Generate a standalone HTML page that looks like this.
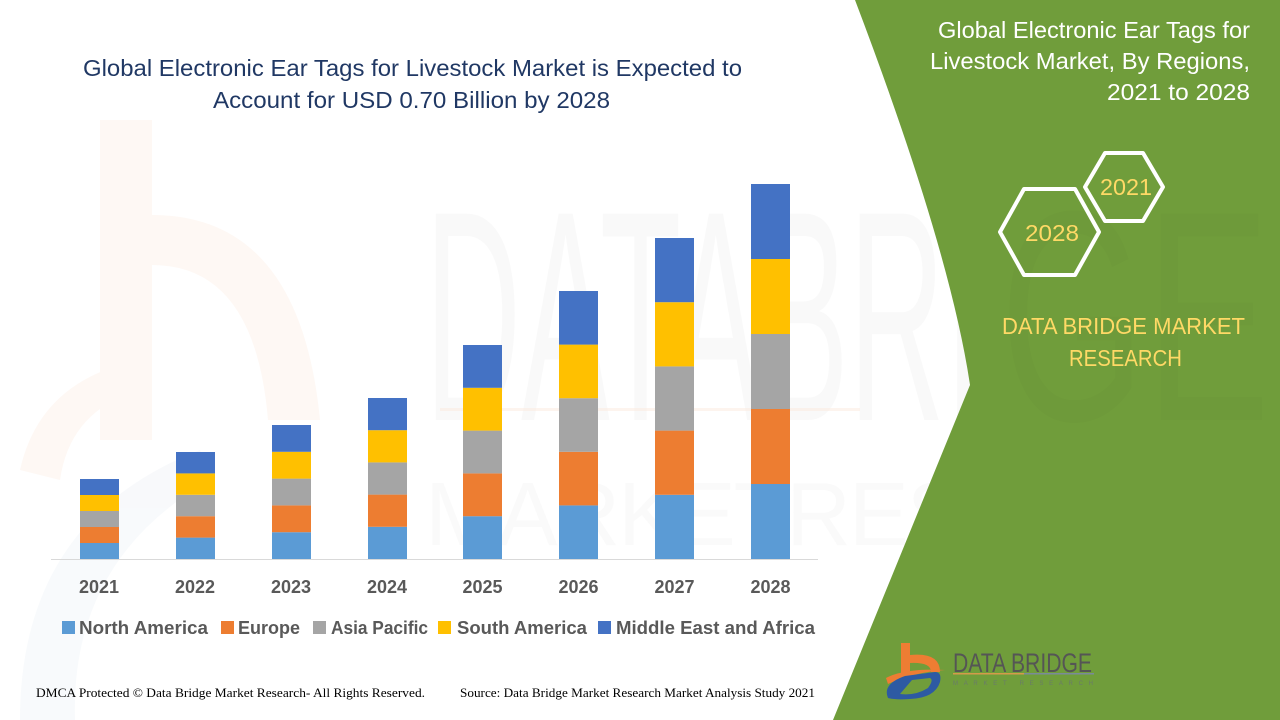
<!DOCTYPE html>
<html>
<head>
<meta charset="utf-8">
<style>
  html,body{margin:0;padding:0;background:#fff;}
  svg{display:block;}
  text{font-family:"Liberation Sans",sans-serif;}
</style>
</head>
<body>
<svg width="1280" height="720" viewBox="0 0 1280 720" xmlns="http://www.w3.org/2000/svg">
  <rect x="0" y="0" width="1280" height="720" fill="#ffffff"/>

  <!-- faint watermark on left -->
  <g opacity="0.4">
    <rect x="100" y="120" width="52" height="320" fill="#fdeee4"/>
    <path d="M152,215 Q300,215 320,420 L268,420 Q255,265 152,265 Z" fill="#fdeee4"/>
    <path d="M20,470 Q40,380 140,360 L140,390 Q70,410 60,480 Z" fill="#fdeee4"/>
    <path d="M20,720 Q20,520 200,450 L210,480 Q70,560 75,720 Z" fill="#eef2f7"/>
  </g>
  <text x="425" y="420" font-size="300" fill="#000" opacity="0.018" textLength="845" lengthAdjust="spacingAndGlyphs">DATABRIDGE</text>
  <text x="425" y="545" font-size="90" fill="#000" opacity="0.015" textLength="845" lengthAdjust="spacing">MARKETRESEARCH</text>
  <rect x="440" y="408" width="420" height="3" fill="#fbe9de" opacity="0.5"/>

  <!-- green panel -->
  <path d="M855,0 Q950,250 970,385 L833,720 L1280,720 L1280,0 Z" fill="#709d3b"/>
  <text x="1000" y="420" font-size="300" fill="#000" opacity="0.012" textLength="270" lengthAdjust="spacingAndGlyphs">GE</text>

  <!-- main title -->
  <text x="83" y="76" font-size="23" fill="#203864" textLength="659" lengthAdjust="spacingAndGlyphs">Global Electronic Ear Tags for Livestock Market is Expected to</text>
  <text x="213" y="108" font-size="23" fill="#203864" textLength="397" lengthAdjust="spacingAndGlyphs">Account for USD 0.70 Billion by 2028</text>

  <!-- right title -->
  <text x="938" y="38" font-size="23" fill="#ffffff" textLength="312" lengthAdjust="spacingAndGlyphs">Global Electronic Ear Tags for</text>
  <text x="930" y="69" font-size="23" fill="#ffffff" textLength="320" lengthAdjust="spacingAndGlyphs">Livestock Market, By Regions,</text>
  <text x="1107" y="100" font-size="23" fill="#ffffff" textLength="143" lengthAdjust="spacingAndGlyphs">2021 to 2028</text>

  <!-- hexagons -->
  <polygon points="1000,232 1024,189 1075,189 1099,232 1075,275 1024,275" fill="none" stroke="#ffffff" stroke-width="4" stroke-linejoin="round"/>
  <polygon points="1085,187 1105,153 1143,153 1163,187 1143,221 1105,221" fill="none" stroke="#ffffff" stroke-width="4" stroke-linejoin="round"/>
  <text x="1126" y="195" font-size="23" fill="#ffd966" text-anchor="middle" textLength="52" lengthAdjust="spacingAndGlyphs">2021</text>
  <text x="1052" y="241" font-size="23" fill="#ffd966" text-anchor="middle" textLength="54" lengthAdjust="spacingAndGlyphs">2028</text>

  <text x="1002" y="334" font-size="23" fill="#ffd966" textLength="243" lengthAdjust="spacingAndGlyphs">DATA BRIDGE MARKET</text>
  <text x="1069" y="366" font-size="23" fill="#ffd966" textLength="113" lengthAdjust="spacingAndGlyphs">RESEARCH</text>

  <!-- axis -->
  <line x1="51" y1="559.5" x2="818" y2="559.5" stroke="#d9d9d9" stroke-width="1"/>

  <!-- bars -->
  <g>
    <rect x="80" y="543" width="39" height="16" fill="#5b9bd5"/>
    <rect x="80" y="527" width="39" height="16" fill="#ed7d31"/>
    <rect x="80" y="511" width="39" height="16" fill="#a5a5a5"/>
    <rect x="80" y="495" width="39" height="16" fill="#ffc000"/>
    <rect x="80" y="479" width="39" height="16" fill="#4472c4"/>

    <rect x="176" y="537.6" width="39" height="21.4" fill="#5b9bd5"/>
    <rect x="176" y="516.2" width="39" height="21.4" fill="#ed7d31"/>
    <rect x="176" y="494.8" width="39" height="21.4" fill="#a5a5a5"/>
    <rect x="176" y="473.4" width="39" height="21.4" fill="#ffc000"/>
    <rect x="176" y="452" width="39" height="21.4" fill="#4472c4"/>

    <rect x="272" y="532.2" width="39" height="26.8" fill="#5b9bd5"/>
    <rect x="272" y="505.4" width="39" height="26.8" fill="#ed7d31"/>
    <rect x="272" y="478.6" width="39" height="26.8" fill="#a5a5a5"/>
    <rect x="272" y="451.8" width="39" height="26.8" fill="#ffc000"/>
    <rect x="272" y="425" width="39" height="26.8" fill="#4472c4"/>

    <rect x="368" y="526.8" width="39" height="32.2" fill="#5b9bd5"/>
    <rect x="368" y="494.6" width="39" height="32.2" fill="#ed7d31"/>
    <rect x="368" y="462.4" width="39" height="32.2" fill="#a5a5a5"/>
    <rect x="368" y="430.2" width="39" height="32.2" fill="#ffc000"/>
    <rect x="368" y="398" width="39" height="32.2" fill="#4472c4"/>

    <rect x="463" y="516.2" width="39" height="42.8" fill="#5b9bd5"/>
    <rect x="463" y="473.4" width="39" height="42.8" fill="#ed7d31"/>
    <rect x="463" y="430.6" width="39" height="42.8" fill="#a5a5a5"/>
    <rect x="463" y="387.8" width="39" height="42.8" fill="#ffc000"/>
    <rect x="463" y="345" width="39" height="42.8" fill="#4472c4"/>

    <rect x="559" y="505.4" width="39" height="53.6" fill="#5b9bd5"/>
    <rect x="559" y="451.8" width="39" height="53.6" fill="#ed7d31"/>
    <rect x="559" y="398.2" width="39" height="53.6" fill="#a5a5a5"/>
    <rect x="559" y="344.6" width="39" height="53.6" fill="#ffc000"/>
    <rect x="559" y="291" width="39" height="53.6" fill="#4472c4"/>

    <rect x="655" y="494.8" width="39" height="64.2" fill="#5b9bd5"/>
    <rect x="655" y="430.6" width="39" height="64.2" fill="#ed7d31"/>
    <rect x="655" y="366.4" width="39" height="64.2" fill="#a5a5a5"/>
    <rect x="655" y="302.2" width="39" height="64.2" fill="#ffc000"/>
    <rect x="655" y="238" width="39" height="64.2" fill="#4472c4"/>

    <rect x="751" y="484" width="39" height="75" fill="#5b9bd5"/>
    <rect x="751" y="409" width="39" height="75" fill="#ed7d31"/>
    <rect x="751" y="334" width="39" height="75" fill="#a5a5a5"/>
    <rect x="751" y="259" width="39" height="75" fill="#ffc000"/>
    <rect x="751" y="184" width="39" height="75" fill="#4472c4"/>
  </g>

  <!-- year labels -->
  <g font-size="18" font-weight="bold" fill="#595959" text-anchor="middle">
    <text x="99" y="593">2021</text>
    <text x="195" y="593">2022</text>
    <text x="291" y="593">2023</text>
    <text x="387" y="593">2024</text>
    <text x="482.5" y="593">2025</text>
    <text x="578.5" y="593">2026</text>
    <text x="674.5" y="593">2027</text>
    <text x="770.5" y="593">2028</text>
  </g>

  <!-- legend -->
  <g font-size="18" font-weight="bold" fill="#595959">
    <rect x="62" y="621" width="13" height="13" fill="#5b9bd5"/>
    <text x="79" y="634" textLength="129" lengthAdjust="spacingAndGlyphs">North America</text>
    <rect x="221" y="621" width="13" height="13" fill="#ed7d31"/>
    <text x="238" y="634" textLength="62" lengthAdjust="spacingAndGlyphs">Europe</text>
    <rect x="313" y="621" width="13" height="13" fill="#a5a5a5"/>
    <text x="331" y="634" textLength="97" lengthAdjust="spacingAndGlyphs">Asia Pacific</text>
    <rect x="438" y="621" width="13" height="13" fill="#ffc000"/>
    <text x="457" y="634" textLength="130" lengthAdjust="spacingAndGlyphs">South America</text>
    <rect x="598" y="621" width="13" height="13" fill="#4472c4"/>
    <text x="616" y="634" textLength="199" lengthAdjust="spacingAndGlyphs">Middle East and Africa</text>
  </g>

  <!-- footer -->
  <text x="36" y="697" font-size="13" fill="#000" textLength="389" lengthAdjust="spacingAndGlyphs" style="font-family:'Liberation Serif',serif">DMCA Protected © Data Bridge Market Research- All Rights Reserved.</text>
  <text x="460" y="697" font-size="13" fill="#000" textLength="355" lengthAdjust="spacingAndGlyphs" style="font-family:'Liberation Serif',serif">Source: Data Bridge Market Research Market Analysis Study 2021</text>

  <!-- logo -->
  <g>
    <rect x="901" y="643" width="9" height="30" fill="#ee7d33"/>
    <path d="M910,655 Q940,652 940,672 L931,672 Q931,662 910,663 Z" fill="#ee7d33"/>
    <path d="M886,678 Q905,668 945,670 Q915,672 888,684 Z" fill="#ee7d33"/>
    <path d="M888,698 Q882,684 905,676 L935,672 Q942,672 940,682 Q935,698 910,699 Q895,700 888,698 Z M900,694 Q915,696 928,688 Q934,680 930,678 L912,680 Z" fill="#2d5aa3" fill-rule="evenodd"/>
    <text x="953" y="672" font-size="27" fill="#555555" textLength="139" lengthAdjust="spacingAndGlyphs">DATA BRIDGE</text>
    <rect x="953" y="673" width="71" height="1.5" fill="#d49a4a"/>
    <rect x="1024" y="673" width="70" height="1.5" fill="#7a8a9a"/>
    <text x="953" y="685" font-size="6" fill="#6a7a6a" textLength="140" lengthAdjust="spacing">MARKET RESEARCH</text>
  </g>
</svg>
</body>
</html>
